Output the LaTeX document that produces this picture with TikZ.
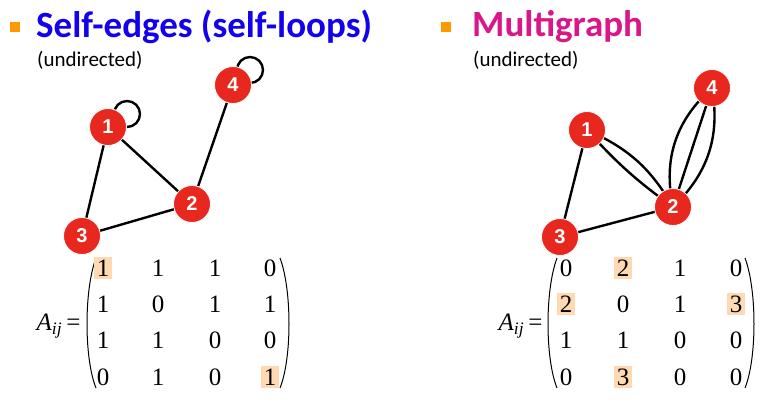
\documentclass[tikz,border=0pt]{standalone}
\usepackage{fontspec}
\setmainfont{Liberation Serif}
\newfontfamily\carl{Carlito}
\newfontfamily\heros{Liberation Sans}
\definecolor{nodered}{HTML}{E8281E}
\begin{document}
\begin{tikzpicture}[x=1pt,y=-1pt,
  vtx/.style={circle,fill=nodered,draw=white,line width=0.8pt,minimum size=37pt,inner sep=0pt,text=white,font=\heros\bfseries\fontsize{20}{20}\selectfont},
  edg/.style={line width=2.4pt,black},
  cell/.style={font=\fontsize{25}{25}\selectfont,inner sep=2pt},
  hl/.style={cell,fill=orange!30,inner sep=3pt},
  ttl/.style={anchor=west,font=\carl\bfseries\fontsize{37}{37}\selectfont,inner sep=0pt},
  sub/.style={anchor=west,font=\carl\fontsize{21}{21}\selectfont,inner sep=0pt},
  bul/.style={fill=orange!80!yellow,minimum size=10pt,inner sep=0pt},
  lhs/.style={font=\fontsize{25}{25}\selectfont,anchor=east}]
\useasboundingbox (0,0) rectangle (772,405);
% titles
\node[bul] (b1) at (15,27) {};
\node[ttl,text=blue!85!violet] (t1) at (36,27) {Self-edges (self-loops)};
\node[sub] (s1) at (37,60) {(undirected)};
\node[bul] (b2) at (446,27) {};
\node[ttl,text=magenta!80!violet] (t2) at (472,27) {Multigraph};
\node[sub] (s2) at (473,60) {(undirected)};
% left graph
\coordinate (L1) at (108,127);\coordinate (L2) at (192,204);
\coordinate (L3) at (82,236);\coordinate (L4) at (233,85);
\draw[edg] (L1)--(L2) (L1)--(L3) (L3)--(L2) (L2)--(L4);
\draw[edg] (127,114) circle (13);
\draw[edg] (250,70) circle (13);
\node[vtx] (n1) at (L1) {1};\node[vtx] (n2) at (L2) {2};
\node[vtx] (n3) at (L3) {3};\node[vtx] (n4) at (L4) {4};
% right graph
\coordinate (R1) at (587,130);\coordinate (R2) at (673,207);
\coordinate (R3) at (560,237);\coordinate (R4) at (712,88);
\draw[edg] (R1)--(R3) (R3)--(R2) (R2)--(R4);
\draw[edg] (R1) to[bend left=18] (R2);
\draw[edg] (R1) to[bend right=6] (R2);
\draw[edg] (R2) to[bend left=30] (R4);
\draw[edg] (R2) to[bend right=28] (R4);
\node[vtx] (m1) at (R1) {1};\node[vtx] (m2) at (R2) {2};
\node[vtx] (m3) at (R3) {3};\node[vtx] (m4) at (R4) {4};
% left matrix
\node[lhs] (A1) at (84,326) {\itshape A\textsubscript{ij}\,\upshape=};
\draw[line width=1pt] (96,258) .. controls (84,290) and (84,358) .. (96,388);
\draw[line width=1pt] (280,258) .. controls (292,290) and (292,358) .. (280,388);
\node[hl] at (103,268){1};\node[cell] at (158,268){1};\node[cell] at (215,268){1};\node[cell] at (270,268){0};
\node[cell] at (103,304){1};\node[cell] at (158,304){0};\node[cell] at (215,304){1};\node[cell] at (270,304){1};
\node[cell] at (103,340){1};\node[cell] at (158,340){1};\node[cell] at (215,340){0};\node[cell] at (270,340){0};
\node[cell] at (103,377){0};\node[cell] at (158,377){1};\node[cell] at (215,377){0};\node[hl] at (270,377){1};
% right matrix
\node[lhs] (A2) at (546,326) {\itshape A\textsubscript{ij}\,\upshape=};
\draw[line width=1pt] (557,258) .. controls (545,290) and (545,358) .. (557,388);
\draw[line width=1pt] (745,258) .. controls (757,290) and (757,358) .. (745,388);
\node[cell] at (566,268){0};\node[hl] at (623,268){2};\node[cell] at (680,268){1};\node[cell] at (736,268){0};
\node[hl] at (566,304){2};\node[cell] at (623,304){0};\node[cell] at (680,304){1};\node[hl] at (736,304){3};
\node[cell] at (566,340){1};\node[cell] at (623,340){1};\node[cell] at (680,340){0};\node[cell] at (736,340){0};
\node[cell] at (566,377){0};\node[hl] at (623,377){3};\node[cell] at (680,377){0};\node[cell] at (736,377){0};
\end{tikzpicture}
\end{document}
